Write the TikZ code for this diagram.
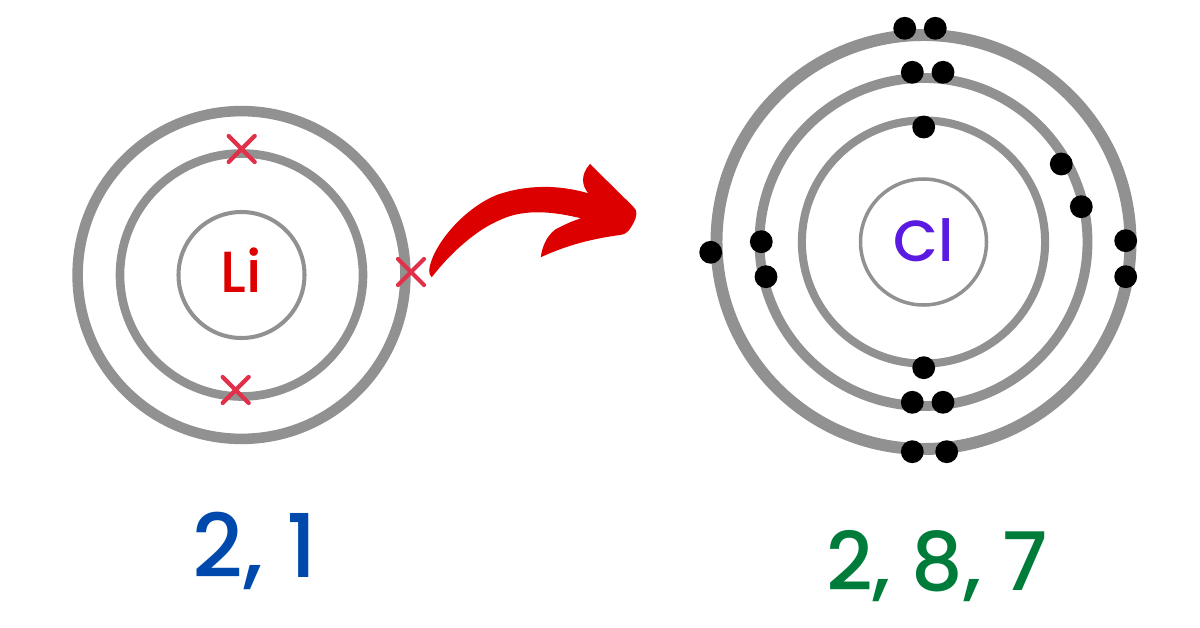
\documentclass[tikz,border=0pt]{standalone}
\usepackage{fontspec}
\setmainfont{Poppins Medium}
\definecolor{shellgray}{HTML}{919191}
\definecolor{crossred}{HTML}{E0304A}
\definecolor{arrowred}{HTML}{DD0000}
\definecolor{clviolet}{HTML}{5A1AE2}
\definecolor{liblue}{HTML}{0049AC}
\definecolor{clgreen}{HTML}{007C3A}
\tikzset{
	shell/.style={draw=shellgray},
	dotpt/.style={circle,fill=black,inner sep=0pt,minimum size=13pt},
	crossmk/.style={draw=crossred,line width=2.4pt,line cap=round},
	symb/.style={font=\fontsize{33}{33}\selectfont},
	config/.style={anchor=base}
}
\begin{document}
\begin{tikzpicture}[x=.02cm,y=-.02cm]
		\useasboundingbox(0,0)rectangle(1200,628);
		% Li shells
		\draw[shell,line width=6pt](241.5,275)circle[radius=163.9];
		\draw[shell,line width=4.9pt](241.5,275)circle[radius=121.5];
		\draw[shell,line width=2.3pt](241.5,275)circle[radius=63];
		\node[symb,text=arrowred](li)at(241.5,270){Li};
		\foreach \x/\y in {241.7/149,235.7/390,411/272}{
			\draw[crossmk](\x-13,\y-13)--(\x+13,\y+13);
			\draw[crossmk](\x-13,\y+13)--(\x+13,\y-13);
		}
		% Cl shells
		\draw[shell,line width=6.8pt](923.5,242)circle[radius=207];
		\draw[shell,line width=5.6pt](923.5,242)circle[radius=164];
		\draw[shell,line width=4.6pt](923.5,242)circle[radius=121.6];
		\draw[shell,line width=2pt](923.5,242)circle[radius=63];
		\node[symb,text=clviolet](cl)at(923.5,240){Cl};
		\foreach \x/\y [count=\i] in {904.7/28.3,935.3/28.3,912.3/72.3,943/72.3,923.7/127,1061.3/164,1081.3/206.7,1125.7/240.7,1125.7/276.7,710.7/252.3,761.3/241.7,766/276.7,923.7/367.7,912.3/402.3,943/402.3,912.3/451.7,946.7/451.7}
			\node[dotpt](e\i)at(\x,\y){};
		% arrow
		\fill[arrowred](431.7,277.3)..controls(428,274)and(429,268)..(431,262)
			..controls(438,240)and(465,208)..(496.7,195)
			..controls(528,184)and(560,185)..(588.3,193.3)
			..controls(582,186)and(580,175)..(590,164)
			--(633.3,206.7)..controls(638,211)and(637,216)..(633.3,223.3)
			..controls(630,229)and(628,234)..(620,235)
			..controls(590,239)and(565,246)..(540.7,257.3)
			..controls(542,248)and(546,236)..(556,229)
			..controls(564,225)and(572,221)..(581,218.3)
			..controls(555,212)and(525,208)..(500,220)
			..controls(478,229)and(452,251)..(431.7,277.3)--cycle;
		% configurations
		\node[config,text=liblue,font=\fontsize{50}{50}\selectfont](lbl1)at(255,577.5){2, 1};
		\node[config,text=clgreen,font=\fontsize{46}{46}\selectfont](lbl2)at(937,590){2, 8, 7};
	\end{tikzpicture}
\end{document}
